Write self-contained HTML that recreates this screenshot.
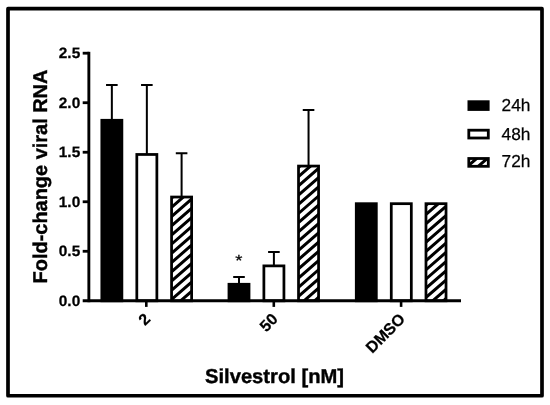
<!DOCTYPE html>
<html><head><meta charset="utf-8"><title>Chart</title>
<style>html,body{margin:0;padding:0;background:#fff}svg{display:block}text{text-rendering:geometricPrecision}</style>
</head><body>
<svg width="550" height="405" viewBox="0 0 550 405">
<defs>
<clipPath id="c2"><rect x="171.57" y="197.03" width="20.05" height="103.78"/></clipPath>
<clipPath id="c5"><rect x="298.52" y="166.07" width="20.05" height="134.73"/></clipPath>
<clipPath id="c8"><rect x="425.98" y="203.68" width="20.05" height="97.12"/></clipPath>
<clipPath id="cl"><rect x="468.8" y="158.5" width="19.5" height="7.8"/></clipPath>
<filter id="soft" x="-2%" y="-2%" width="104%" height="104%"><feGaussianBlur stdDeviation="0.45"/></filter>
</defs>
<rect width="550" height="405" fill="#fff"/>
<g filter="url(#soft)">
<rect x="8.0" y="8.65" width="534.0" height="387.1" fill="none" stroke="#000" stroke-width="3.7" stroke-linejoin="round"/>
<path d="M111.85 119.90V85.05M106.05 85.05H117.65" stroke="#000" stroke-width="2" fill="none"/>
<path d="M146.85 154.10V85.05M141.05 85.05H152.65" stroke="#000" stroke-width="2" fill="none"/>
<path d="M181.60 196.65V153.20M175.80 153.20H187.40" stroke="#000" stroke-width="2" fill="none"/>
<path d="M239.00 283.90V277.10M233.20 277.10H244.80" stroke="#000" stroke-width="2" fill="none"/>
<path d="M273.90 265.50V252.10M268.10 252.10H279.70" stroke="#000" stroke-width="2" fill="none"/>
<path d="M308.55 165.70V110.00M302.75 110.00H314.35" stroke="#000" stroke-width="2" fill="none"/>
<rect x="101.83" y="120.28" width="20.05" height="180.53" fill="#000" stroke="#000" stroke-width="2.75"/>
<rect x="136.82" y="154.47" width="20.05" height="146.33" fill="#fff" stroke="#000" stroke-width="2.75"/>
<rect x="171.57" y="197.03" width="20.05" height="103.78" fill="#fff"/>
<g clip-path="url(#c2)" stroke="#000" stroke-width="3.0" fill="none">
<path d="M169.95 199.44L193.25 179.17M169.95 208.66L193.25 188.39M169.95 217.88L193.25 197.61M169.95 227.10L193.25 206.83M169.95 236.32L193.25 216.05M169.95 245.54L193.25 225.27M169.95 254.76L193.25 234.49M169.95 263.98L193.25 243.71M169.95 273.20L193.25 252.93M169.95 282.42L193.25 262.15M169.95 291.64L193.25 271.37M169.95 300.86L193.25 280.59M169.95 310.08L193.25 289.81M169.95 319.30L193.25 299.03"/>
</g>
<rect x="171.57" y="197.03" width="20.05" height="103.78" fill="none" stroke="#000" stroke-width="2.75"/>
<rect x="228.97" y="284.27" width="20.05" height="16.53" fill="#000" stroke="#000" stroke-width="2.75"/>
<rect x="263.88" y="265.88" width="20.05" height="34.93" fill="#fff" stroke="#000" stroke-width="2.75"/>
<rect x="298.52" y="166.07" width="20.05" height="134.73" fill="#fff"/>
<g clip-path="url(#c5)" stroke="#000" stroke-width="3.0" fill="none">
<path d="M296.90 168.74L320.20 148.47M296.90 177.96L320.20 157.69M296.90 187.18L320.20 166.91M296.90 196.40L320.20 176.13M296.90 205.62L320.20 185.35M296.90 214.84L320.20 194.57M296.90 224.06L320.20 203.79M296.90 233.28L320.20 213.01M296.90 242.50L320.20 222.23M296.90 251.72L320.20 231.45M296.90 260.94L320.20 240.67M296.90 270.16L320.20 249.89M296.90 279.38L320.20 259.11M296.90 288.60L320.20 268.33M296.90 297.82L320.20 277.55M296.90 307.04L320.20 286.77M296.90 316.26L320.20 295.99M296.90 325.48L320.20 305.21"/>
</g>
<rect x="298.52" y="166.07" width="20.05" height="134.73" fill="none" stroke="#000" stroke-width="2.75"/>
<rect x="356.27" y="203.68" width="20.05" height="97.12" fill="#000" stroke="#000" stroke-width="2.75"/>
<rect x="391.27" y="203.68" width="20.05" height="97.12" fill="#fff" stroke="#000" stroke-width="2.75"/>
<rect x="425.98" y="203.68" width="20.05" height="97.12" fill="#fff"/>
<g clip-path="url(#c8)" stroke="#000" stroke-width="3.0" fill="none">
<path d="M424.35 206.69L447.65 186.42M424.35 215.91L447.65 195.64M424.35 225.13L447.65 204.86M424.35 234.35L447.65 214.08M424.35 243.57L447.65 223.30M424.35 252.79L447.65 232.52M424.35 262.01L447.65 241.74M424.35 271.23L447.65 250.96M424.35 280.45L447.65 260.18M424.35 289.67L447.65 269.40M424.35 298.89L447.65 278.62M424.35 308.11L447.65 287.84M424.35 317.33L447.65 297.06M424.35 326.55L447.65 306.28"/>
</g>
<rect x="425.98" y="203.68" width="20.05" height="97.12" fill="none" stroke="#000" stroke-width="2.75"/>
<path d="M88.85 51.80V302.20" stroke="#000" stroke-width="2.9" fill="none"/>
<path d="M82.7 300.80H461" stroke="#000" stroke-width="3.1" fill="none"/>
<path d="M82.7 251.28H88.85" stroke="#000" stroke-width="2.8" fill="none"/>
<path d="M82.7 201.76H88.85" stroke="#000" stroke-width="2.8" fill="none"/>
<path d="M82.7 152.24H88.85" stroke="#000" stroke-width="2.8" fill="none"/>
<path d="M82.7 102.72H88.85" stroke="#000" stroke-width="2.8" fill="none"/>
<path d="M82.7 53.20H88.85" stroke="#000" stroke-width="2.8" fill="none"/>
<path d="M146.3 300.8V306.9" stroke="#000" stroke-width="2.6" fill="none"/>
<path d="M273.8 300.8V306.9" stroke="#000" stroke-width="2.6" fill="none"/>
<path d="M401.1 300.8V306.9" stroke="#000" stroke-width="2.6" fill="none"/>
<g font-family="'Liberation Sans', Arial, sans-serif" font-weight="bold" font-size="15" fill="#000" stroke="#000" stroke-width="0.25">
<text x="80.2" y="305.75" text-anchor="end" textLength="21.4" lengthAdjust="spacingAndGlyphs">0.0</text>
<text x="80.2" y="256.23" text-anchor="end" textLength="21.4" lengthAdjust="spacingAndGlyphs">0.5</text>
<text x="80.2" y="206.71" text-anchor="end" textLength="21.4" lengthAdjust="spacingAndGlyphs">1.0</text>
<text x="80.2" y="157.19" text-anchor="end" textLength="21.4" lengthAdjust="spacingAndGlyphs">1.5</text>
<text x="80.2" y="107.67" text-anchor="end" textLength="21.4" lengthAdjust="spacingAndGlyphs">2.0</text>
<text x="80.2" y="57.70" text-anchor="end" textLength="21.4" lengthAdjust="spacingAndGlyphs">2.5</text>
<text transform="translate(151.35 320.05) rotate(-45)" text-anchor="end" font-size="16">2</text>
<text transform="translate(278.85 320.05) rotate(-45)" text-anchor="end" font-size="16">50</text>
<text transform="translate(406.15 320.05) rotate(-45)" text-anchor="end" font-size="16">DMSO</text>
</g>
<g font-family="'Liberation Sans', Arial, sans-serif" font-weight="bold" font-size="19.95" fill="#000" stroke="#000" stroke-width="0.4">
<text transform="translate(47.0 283.4) rotate(-90)">Fold-change viral RNA</text>
<text x="205" y="383.3" font-size="20.18">Silvestrol [nM]</text>
</g>
<rect x="467.5" y="100.3" width="22.1" height="10.6" fill="#000"/>
<rect x="468.8" y="130.2" width="19.5" height="7.8" fill="#fff" stroke="#000" stroke-width="2.8"/>
<g clip-path="url(#cl)" stroke="#000" stroke-width="3.0" fill="none">
<path d="M467.20 157.49L489.90 137.74M467.20 166.71L489.90 146.96M467.20 175.93L489.90 156.18M467.20 185.15L489.90 165.40"/>
</g>
<rect x="468.8" y="158.5" width="19.5" height="7.8" fill="none" stroke="#000" stroke-width="2.8"/>
<g font-family="'Liberation Sans', Arial, sans-serif" font-size="17.3" fill="#000" stroke="#000" stroke-width="0.25">
<text x="501.6" y="110.9">24h</text>
<text x="501.6" y="139.5">48h</text>
<text x="501.6" y="167.3">72h</text>
<text transform="translate(238.8 265.6) scale(1.15 1)" text-anchor="middle" font-size="16">*</text>
</g>
</g>
</svg>
</body></html>
